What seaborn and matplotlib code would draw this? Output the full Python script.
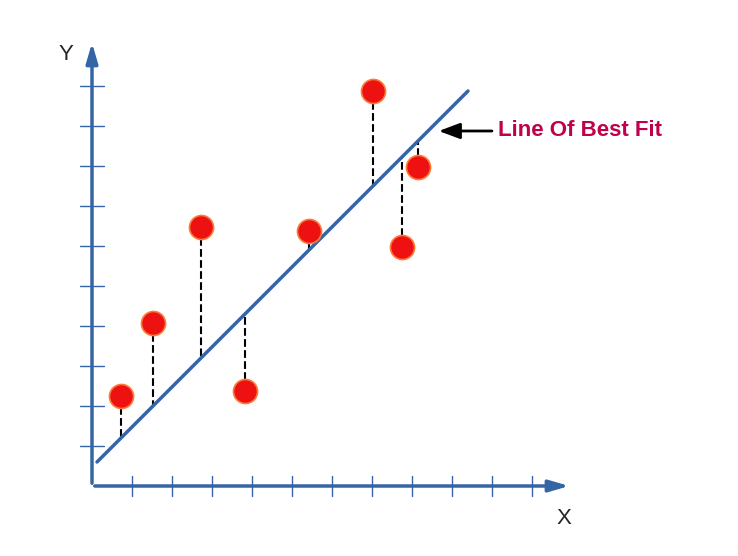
import numpy as np
import pandas as pd
import seaborn as sns
import matplotlib.pyplot as plt

sns.set_style('white')
plt.rcParams['font.family'] = ['Liberation Sans', 'DejaVu Sans']

# data in tick units
point_x = [0.725, 1.525, 2.725, 3.825, 5.425, 7.025, 7.75, 8.15]
point_y = [2.25, 4.075, 6.475, 2.375, 6.375, 9.875, 5.975, 7.975]
fit_x = [0.125, 9.4]
slope, intercept = 1.0, 0.475
x_ticks = list(range(1, 12))
y_ticks = list(range(1, 11))

blue = '#3465a4'
fig = plt.figure(figsize=(7.38, 5.56), dpi=100)
ax = fig.add_axes([0, 0, 1, 1])

# axes with arrows
ax.annotate('', xy=(12.0, 0), xytext=(0, 0),
            arrowprops=dict(arrowstyle='-|>,head_width=0.35,head_length=1.2', color=blue, lw=2.5))
ax.annotate('', xy=(0, 11.15), xytext=(0, 0),
            arrowprops=dict(arrowstyle='-|>,head_width=0.35,head_length=1.2', color=blue, lw=2.5))
for t in x_ticks:
    ax.plot([t, t], [-0.25, 0.25], color=blue, lw=1.0)
for t in y_ticks:
    ax.plot([-0.3, 0.3], [t, t], color=blue, lw=1.0)

# residuals
for px, py in zip(point_x, point_y):
    ax.plot([px, px], [py, slope * px + intercept], color='black', ls='--', lw=1.5, zorder=2)

fit_df = pd.DataFrame({'x': fit_x, 'y': [slope * v + intercept for v in fit_x]})
sns.lineplot(data=fit_df, x='x', y='y', ax=ax, color=blue, lw=2.5, zorder=3)

pts = pd.DataFrame({'x': point_x, 'y': point_y})
sns.scatterplot(data=pts, x='x', y='y', ax=ax, s=300, color='#ee1111',
                edgecolor='#ff7a3a', linewidth=1.2, zorder=4)
ax.set_xlim(-2.3, 16.15)
ax.set_ylim(-1.75, 12.15)
ax.axis('off')

ax.text(-0.65, 10.8, 'Y', fontsize=16, ha='center', va='center')
ax.text(11.8, -0.82, 'X', fontsize=16, ha='center', va='center')
ax.annotate('Line Of Best Fit', xy=(8.6, 8.875), xytext=(10.15, 8.875),
            color='#c0004a', fontsize=16, fontweight='bold', va='center',
            arrowprops=dict(arrowstyle='-|>,head_width=0.3,head_length=0.8', color='black', lw=2))

fig.savefig('out.png', dpi=100)
